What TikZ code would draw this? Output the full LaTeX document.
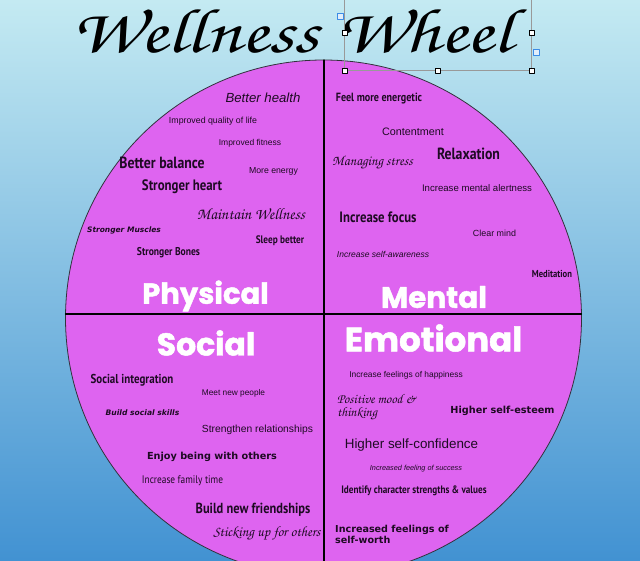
\documentclass[tikz,border=0pt]{standalone}
\usepackage{fontspec}
\setmainfont{Liberation Sans}
\newfontfamily\markfont[FakeStretch=0.85]{PT Sans}
\newfontfamily\heavyfont{DejaVu Sans}
\newfontfamily\headfont[BoldFeatures={FakeBold=1.5}]{Poppins}
\newfontfamily\handfont{texgyrechorus-mediumitalic.otf}
\newfontfamily\titlefont[FakeStretch=1.25]{texgyrechorus-mediumitalic.otf}
\definecolor{ink}{RGB}{30,10,35}
\definecolor{seatop}{RGB}{196,234,242}
\definecolor{seabottom}{RGB}{66,146,210}
\definecolor{wheelpink}{RGB}{222,100,240}
\definecolor{rimgray}{RGB}{50,50,60}
\definecolor{gripblue}{RGB}{60,140,230}
\begin{document}
\begin{tikzpicture}[x=1pt,y=-1pt,line join=round,line cap=round]
\tikzset{arial/.style={font=\fontsize{#1}{#1}\selectfont,text=ink,inner sep=0pt},
  arialit/.style={font=\fontsize{#1}{#1}\selectfont\itshape,text=ink,inner sep=0pt},
  marker/.style={font=\markfont\bfseries\fontsize{#1}{#1}\selectfont,text=ink,inner sep=0pt},
  markerlight/.style={font=\markfont\fontsize{#1}{#1}\selectfont,text=ink,inner sep=0pt},
  heavy/.style={font=\heavyfont\bfseries\fontsize{#1}{#1}\selectfont,text=ink,inner sep=0pt},
  heavyit/.style={font=\heavyfont\bfseries\itshape\fontsize{#1}{#1}\selectfont,text=ink,inner sep=0pt},
  hand/.style={font=\handfont\fontsize{#1}{#1}\selectfont,text=ink,inner sep=0pt},
  head/.style={font=\headfont\bfseries\fontsize{#1}{#1}\selectfont,text=white,inner sep=0pt},
  spoke/.style={draw=black,line width=1.3pt},
  handle/.style={draw=black,fill=white,minimum size=5pt,inner sep=0pt,line width=0.6pt},
  grip/.style={draw=gripblue,fill=gripblue!15,minimum size=6pt,inner sep=0pt,line width=0.6pt}}
\useasboundingbox (0,0) rectangle (640,560);
\clip (0,0) rectangle (640,560);
\fill[top color=seatop,bottom color=seabottom] (0,0) rectangle (640,560);
% wheel
\coordinate (hub) at (323.5,318);
\draw[draw=rimgray,fill=wheelpink,line width=0.8pt] (hub) circle (258pt);
\coordinate (top) at (324,60);
\coordinate (bottom) at (324,580);
\coordinate (left) at (65.5,314);
\coordinate (right) at (581.5,314);
\draw[spoke] (top) -- (bottom);
\draw[spoke] (left) -- (right);
% title and selection box
\node[font=\titlefont\fontsize{63}{63}\selectfont,inner sep=0pt,anchor=base] (title) at (292,52) {Wellness Wheel};
\draw[gray!80,line width=0.5pt] (344.5,-2) -- (344.5,70.5) -- (531.5,70.5) -- (531.5,-2);
\node[handle] (h1) at (344.5,33) {};
\node[handle] (h2) at (531.5,33) {};
\node[handle] (h3) at (344.5,70.5) {};
\node[handle] (h4) at (438,70.5) {};
\node[handle] (h5) at (531.5,70.5) {};
\node[grip] (g1) at (340,16) {};
\node[grip] (g2) at (536.5,52) {};
% physical
\node[arialit=13.2] (health) at (263,98) {Better health};
\node[arial=8.8] (life) at (213,121) {Improved quality of life};
\node[arial=8.5] (fitness) at (250,143) {Improved fitness};
\node[marker=16.2] (balance) at (162,163) {Better balance};
\node[arial=8.7] (energy) at (273.5,171) {More energy};
\node[marker=15.1] (heart) at (182,187) {Stronger heart};
\node[hand=16] (maintain) at (251,214) {Maintain Wellness};
\node[heavyit=7.5] (muscles) at (124,230) {Stronger Muscles};
\node[marker=10.9] (sleep) at (280,241) {Sleep better};
\node[marker=11.3] (bones) at (168.5,253) {Stronger Bones};
\node[head=29] (physical) at (205.5,296) {Physical};
% mental
\node[marker=11.9] (energetic) at (379,99) {Feel more energetic};
\node[arial=10.8] (content) at (413,132) {Contentment};
\node[marker=16.2] (relax) at (468.5,154) {Relaxation};
\node[hand=14] (stress) at (372.5,163) {Managing stress};
\node[arial=9.6] (alert) at (477,188) {Increase mental alertness};
\node[marker=15] (focus) at (378,217) {Increase focus};
\node[arial=8.9] (clear) at (494.5,233) {Clear mind};
\node[arialit=8.5] (aware) at (383,254) {Increase self-awareness};
\node[marker=10.1] (meditate) at (552,274) {Meditation};
\node[head=29.5] (mental) at (434,297) {Mental};
% social
\node[head=31.5] (social) at (206,343) {Social};
\node[marker=12.9] (integrate) at (132,380) {Social integration};
\node[arial=8.3] (people) at (233.5,393) {Meet new people};
\node[heavyit=7.6] (skills) at (142.5,413) {Build social skills};
\node[arial=10.3] (relations) at (257.5,430) {Strengthen relationships};
\node[heavy=9.7] (enjoy) at (212,457) {Enjoy being with others};
\node[markerlight=11] (family) at (182.5,481) {Increase family time};
\node[marker=14.6] (friends) at (253,510) {Build new friendships};
\node[hand=14.3] (stick) at (267,533) {Sticking up for others};
% emotional
\node[head=34] (emotional) at (433.5,338) {Emotional};
\node[arial=8.4] (happy) at (406,375) {Increase feelings of happiness};
\node[hand=13.4,align=left,anchor=west] (mood) at (337,407) {Positive mood \&\\thinking};
\node[heavy=9.7] (esteem) at (502.5,411) {Higher self-esteem};
\node[arial=13.4] (confidence) at (411.5,445) {Higher self-confidence};
\node[arialit=7.3] (success) at (416,469) {Increased feeling of success};
\node[marker=10.8] (character) at (414,491) {Identify character strengths \& values};
\node[heavy=9.6,align=left,anchor=west] (worth) at (335,534.5) {Increased feelings of\\[1.5pt]self-worth};
\end{tikzpicture}
\end{document}
